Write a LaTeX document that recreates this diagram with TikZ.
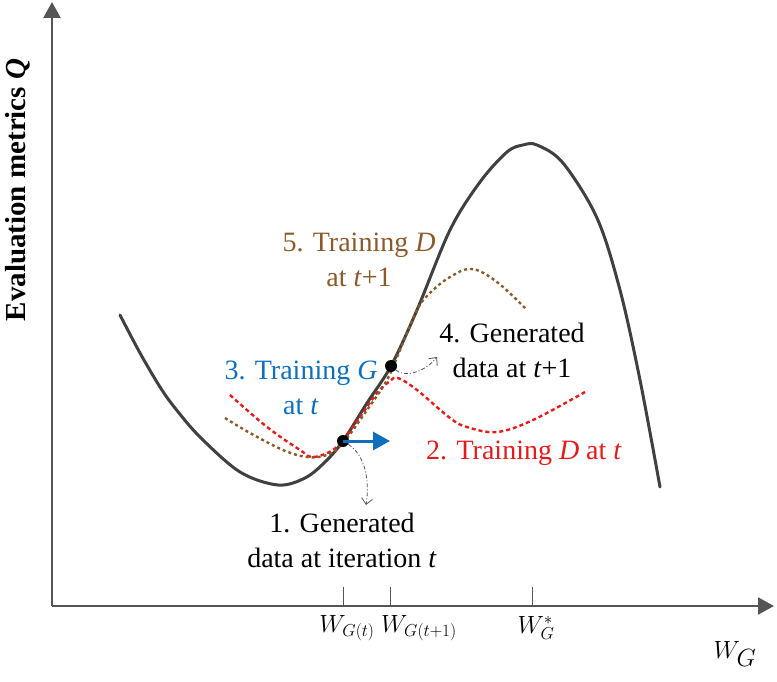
\documentclass[tikz,border=0pt]{standalone}
\usepackage{fontspec}
\setmainfont{Liberation Serif}
\usetikzlibrary{arrows.meta}

\definecolor{curvegray}{HTML}{404040}
\definecolor{axisgray}{HTML}{555555}
\definecolor{dred}{HTML}{E31B1B}
\definecolor{dbrown}{HTML}{8C5A2A}
\definecolor{gblue}{HTML}{0F6EBE}

\tikzset{
  axis/.style={axisgray, line width=2.2pt, -{Triangle[length=16pt,width=17pt]}},
  tickmark/.style={axisgray, line width=1pt},
  dot/.style={circle, fill=black, inner sep=0pt, minimum size=12pt},
  note/.style={axisgray, line width=0.8pt, dash pattern=on 4pt off 2pt on 1pt off 2pt,
    -{Straight Barb[length=6pt,width=11pt]}},
  label/.style={align=center, font=\fontsize{28}{35}\selectfont},
  ticklabel/.style={font=\fontsize{27}{32}\selectfont},
}

\begin{document}
\begin{tikzpicture}[x=1pt,y=-1pt]
\useasboundingbox (0,0) rectangle (777,682);
% axes
\coordinate (o) at (52,606);
\coordinate (ytop) at (52,2);
\coordinate (xend) at (774,606);
\draw[axis] (o) -- (ytop);
\draw[axis] (o) -- (xend);
\node[rotate=90, font=\bfseries\fontsize{29}{35}\selectfont] (ylab) at (18,190) {Evaluation metrics \textit{Q}};
\node[font=\fontsize{36}{40}\selectfont] (xlab) at (735,654) {$W_G$};
% ticks
\draw[tickmark] (343,606) -- (343,587);
\draw[tickmark] (390,606) -- (390,587);
\draw[tickmark] (532,606) -- (532,587);
\node[ticklabel] (wt) at (347,628) {$W_{G(t)}$};
\node[ticklabel] (wt1) at (419,628) {$W_{G(t+1)}$};
\node[ticklabel] (wstar) at (536,628) {$W_G^*$};
% Q curve
\draw[curvegray, line width=3pt, line cap=round] plot[smooth, tension=0.55] coordinates {
  (120,315) (140,353) (160,387) (175,408) (200,437) (240,472) (278,485)
  (305,478) (325,462) (343,441) (367,403) (391,366) (417,310) (450,230)
  (480,182) (507,152) (523,145) (537,145) (563,163) (597,218) (620,290) (640,380) (660,487)};
% training D at t
\draw[dred, line width=2.4pt, dash pattern=on 4pt off 3pt] plot[smooth, tension=0.6] coordinates {
  (230,395) (267,427) (300,450) (313,457) (333,450) (345,437) (360,417)
  (377,393) (390,381) (398,378) (417,390) (450,418) (467,427) (497,432)
  (533,420) (585,392)};
% training D at t+1
\draw[dbrown, line width=2.4pt, dash pattern=on 3pt off 3pt] plot[smooth, tension=0.6] coordinates {
  (225,418) (250,433) (283,450) (307,457) (327,455) (343,443) (367,410)
  (387,380) (400,350) (417,310) (430,293) (450,277) (472,269) (497,282)
  (527,310)};
% generated data
\node[dot] (gt) at (343,441) {};
\node[dot] (gt1) at (391,366) {};
\draw[gblue, line width=3pt, -{Triangle[length=17pt,width=18pt]}] (gt.center) -- ++(47,0) coordinate (gnext);
\coordinate (n1) at (366,505);
\coordinate (n4) at (437,357);
\draw[note] (gt) .. controls (365,455) and (370,480) .. (n1);
\draw[note] (gt1) .. controls (405,378) and (425,372) .. (n4);
% labels
\node[label] (l1) at (342,540) {1. Generated\\data at iteration \textit{t}};
\node[label, dred] (l2) at (524,453) {2. Training \textit{D} at \textit{t}};
\node[label, gblue] (l3) at (301,388) {3. Training \textit{G}\\at \textit{t}};
\node[label] (l4) at (512,350) {4. Generated\\data at \textit{t}+1};
\node[label, dbrown] (l5) at (359,260) {5. Training \textit{D}\\at \textit{t}+1};
\end{tikzpicture}
\end{document}
